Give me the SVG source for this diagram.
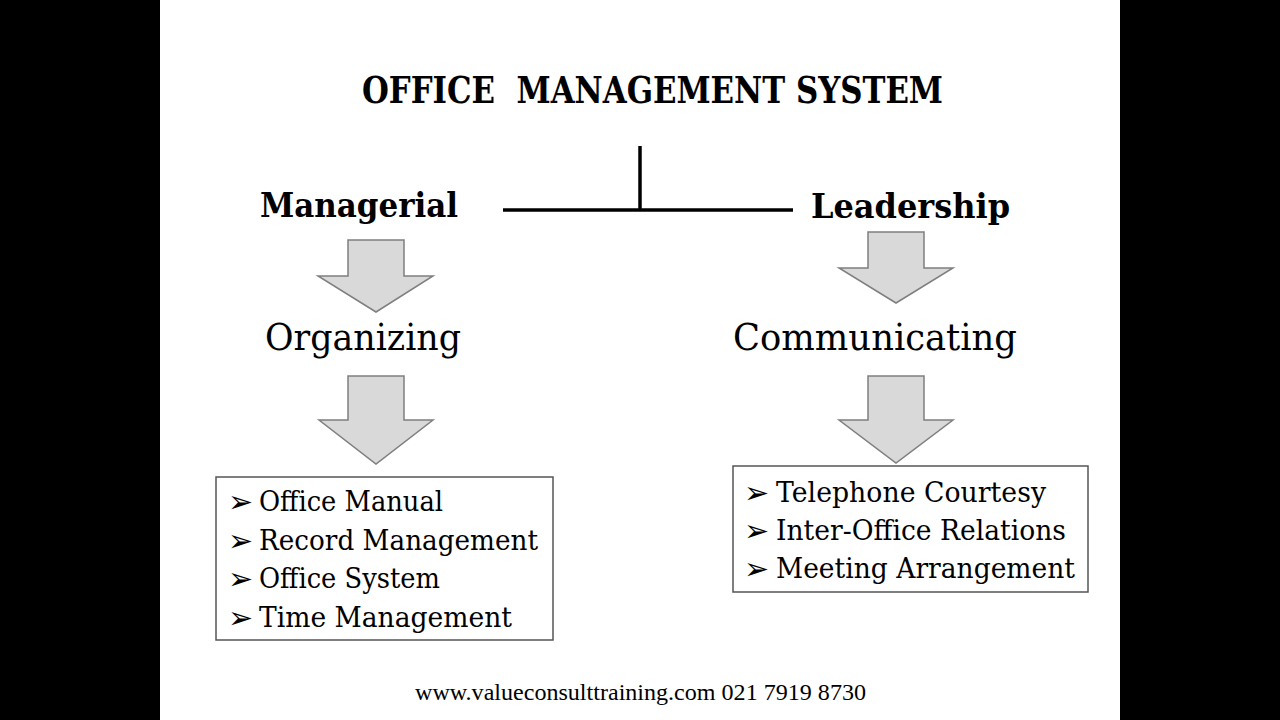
<svg xmlns="http://www.w3.org/2000/svg" width="1280" height="720" viewBox="0 0 1280 720">
<defs>
<style>
.bar{fill:#000}
.serif{font-family:"DejaVu Serif","Liberation Serif",serif;fill:#000}
.title{font-size:38px;font-weight:bold}
.head{font-size:34px;font-weight:bold}
.sub{font-size:37px}
.item{font-size:27px}
.bul{font-family:"DejaVu Sans","Noto Sans",sans-serif;font-size:30px;fill:#000}
.foot{font-family:"Liberation Serif","Times New Roman",serif;font-size:24px;fill:#000}
.arrow{fill:#d9d9d9;stroke:#7f7f7f;stroke-width:1.5;stroke-linejoin:miter}
.box{fill:#fff;stroke:#555;stroke-width:1.5}
.conn{stroke:#000;stroke-width:3.5;fill:none}
</style>
</defs>
<rect x="0" y="0" width="1280" height="720" fill="#fff"/>
<rect class="bar" x="0" y="0" width="160" height="720"/>
<rect class="bar" x="1120" y="0" width="160" height="720"/>

<g id="title">
<text class="serif title" x="362" y="103" textLength="581" lengthAdjust="spacingAndGlyphs" xml:space="preserve">OFFICE  MANAGEMENT SYSTEM</text>
</g>

<g id="connectors">
<line class="conn" x1="640" y1="146" x2="640" y2="210"/>
<line class="conn" x1="503" y1="210" x2="793" y2="210"/>
<polygon class="arrow" points="348,240 404,240 404,276 433,276 376,312 318,276 348,276"/>
<polygon class="arrow" points="348,376 404,376 404,420 433,420 376,464 319,420 348,420"/>
<polygon class="arrow" points="868,232 924,232 924,268 953,268 896,303 839,268 868,268"/>
<polygon class="arrow" points="868,376 924,376 924,420 953,420 896,463 839,420 868,420"/>
</g>

<g id="managerial">
<text class="serif head" x="260" y="217" textLength="198" lengthAdjust="spacingAndGlyphs">Managerial</text>
</g>
<g id="leadership">
<text class="serif head" x="811" y="218" textLength="199" lengthAdjust="spacingAndGlyphs">Leadership</text>
</g>
<g id="organizing">
<text class="serif sub" x="265" y="350" textLength="196" lengthAdjust="spacingAndGlyphs">Organizing</text>
</g>
<g id="communicating">
<text class="serif sub" x="733" y="350" textLength="284" lengthAdjust="spacingAndGlyphs">Communicating</text>
</g>

<g id="organizing-list">
<rect class="box" x="216" y="477" width="337" height="163"/>
<text class="bul" x="228" y="512">➢</text>
<text class="serif item" x="259" y="511" textLength="184" lengthAdjust="spacingAndGlyphs">Office Manual</text>
<text class="bul" x="228" y="551">➢</text>
<text class="serif item" x="259" y="550" textLength="279" lengthAdjust="spacingAndGlyphs">Record Management</text>
<text class="bul" x="228" y="589">➢</text>
<text class="serif item" x="259" y="588" textLength="181" lengthAdjust="spacingAndGlyphs">Office System</text>
<text class="bul" x="228" y="628">➢</text>
<text class="serif item" x="259" y="627" textLength="253" lengthAdjust="spacingAndGlyphs">Time Management</text>
</g>

<g id="communicating-list">
<rect class="box" x="733" y="466" width="355" height="126"/>
<text class="bul" x="744" y="503">➢</text>
<text class="serif item" x="776" y="502" textLength="270" lengthAdjust="spacingAndGlyphs">Telephone Courtesy</text>
<text class="bul" x="744" y="541">➢</text>
<text class="serif item" x="776" y="540" textLength="290" lengthAdjust="spacingAndGlyphs">Inter-Office Relations</text>
<text class="bul" x="744" y="579">➢</text>
<text class="serif item" x="776" y="578" textLength="299" lengthAdjust="spacingAndGlyphs">Meeting Arrangement</text>
</g>

<g id="footer">
<text class="foot" x="415" y="700" textLength="451" lengthAdjust="spacingAndGlyphs">www.valueconsulttraining.com 021 7919 8730</text>
</g>
</svg>
